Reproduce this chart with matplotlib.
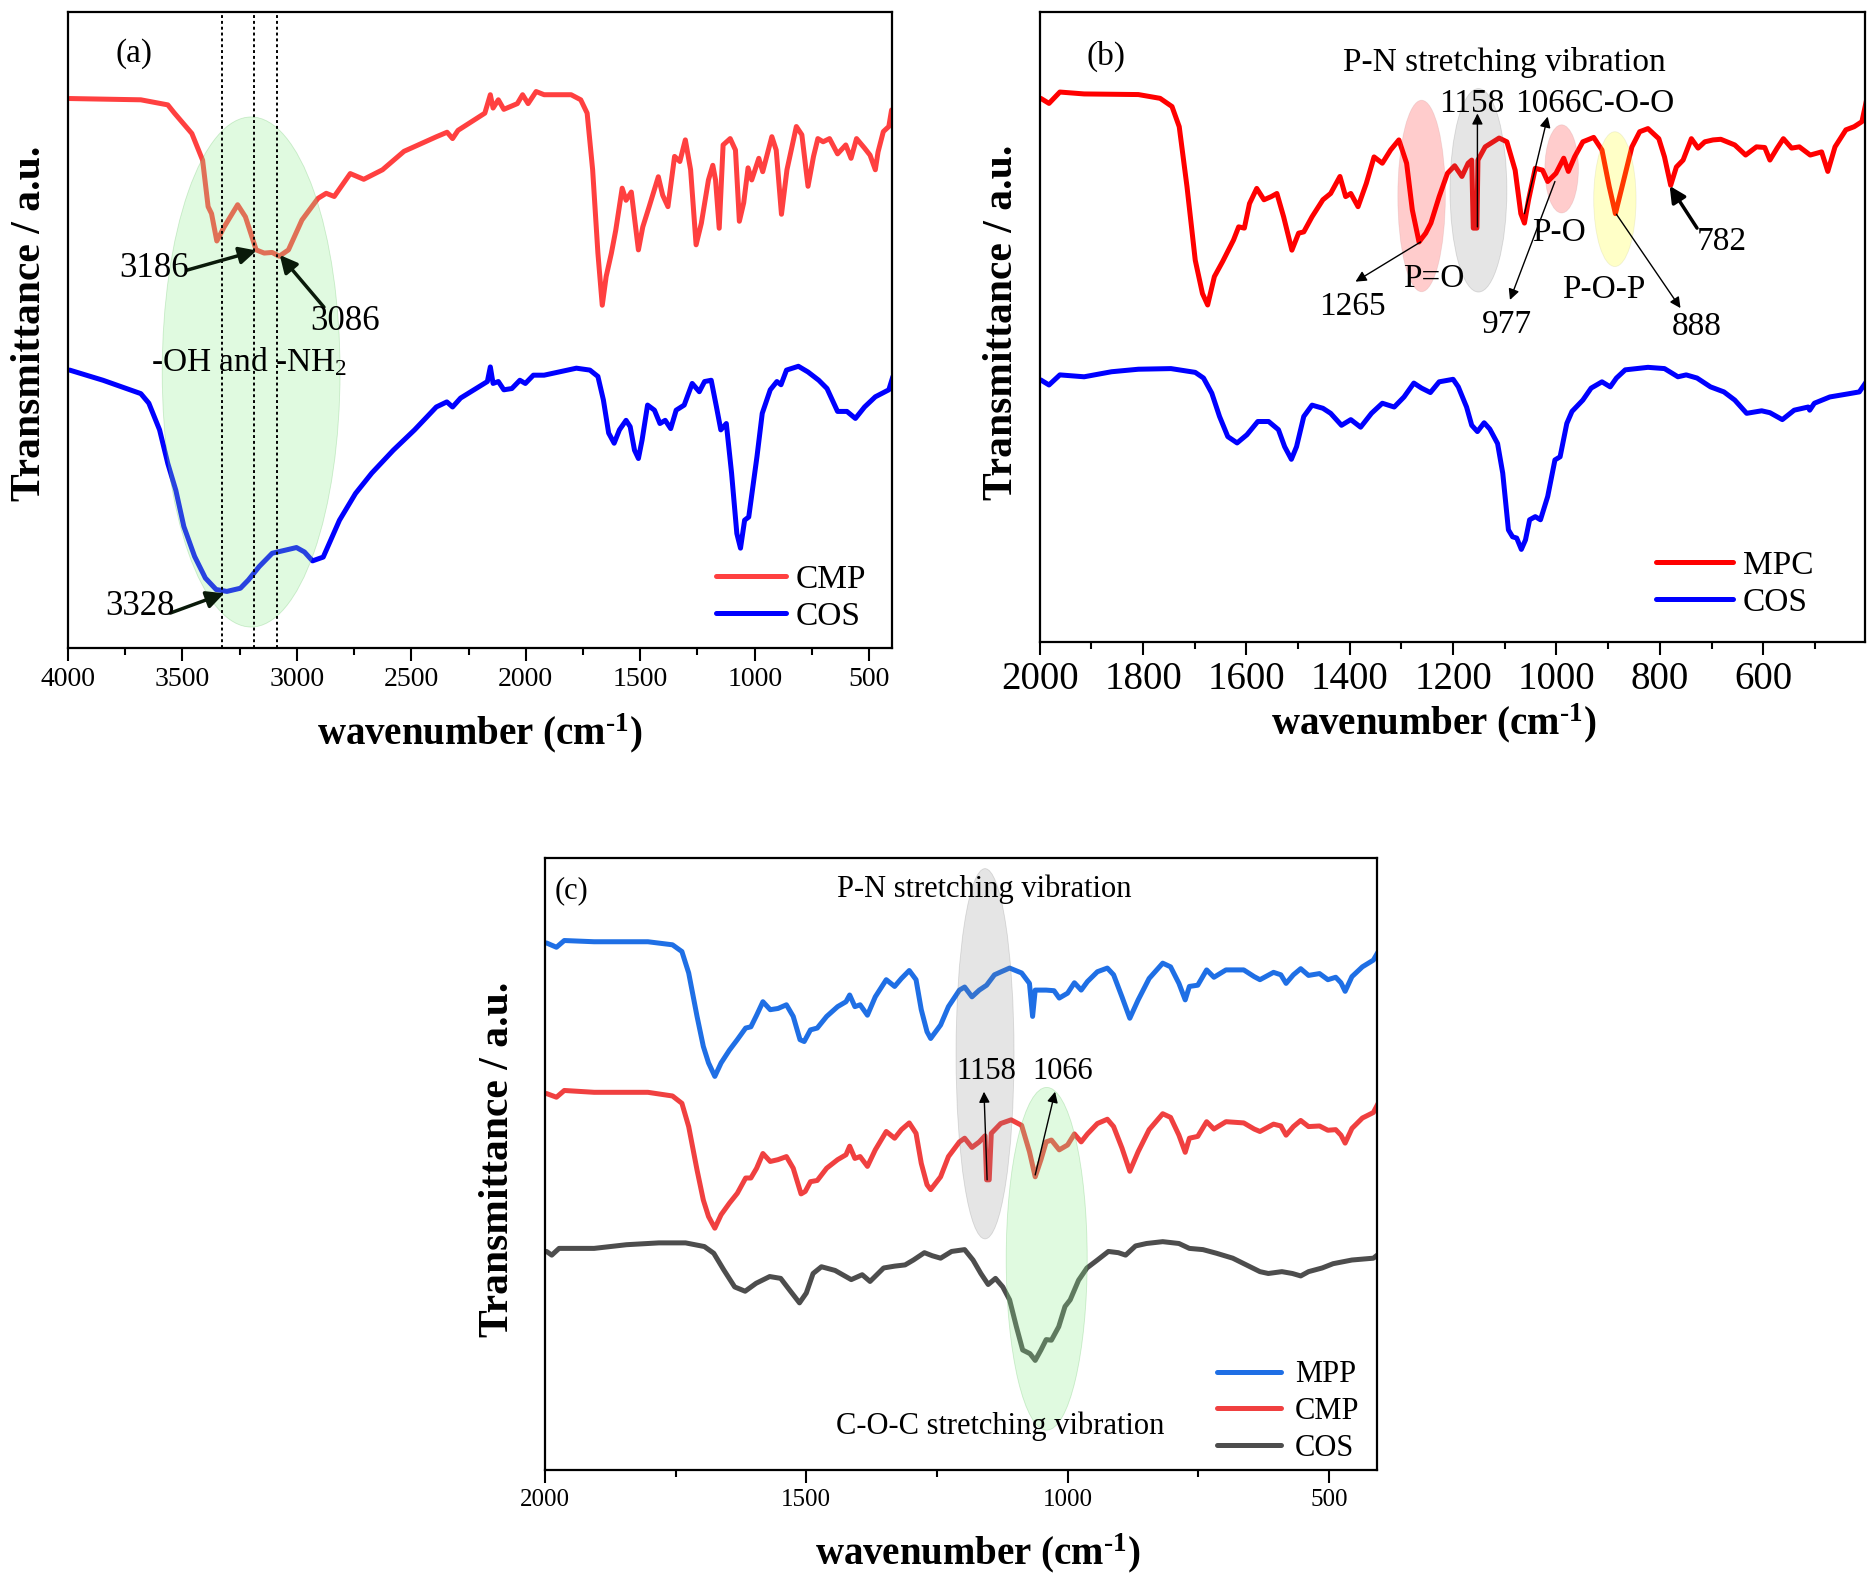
import matplotlib
matplotlib.use("Agg")
import matplotlib.pyplot as plt
from matplotlib.patches import Ellipse
from matplotlib.ticker import MultipleLocator

plt.rcParams['font.family'] = ['Liberation Serif', 'DejaVu Serif']
plt.rcParams['mathtext.fontset'] = 'custom'
plt.rcParams['mathtext.rm'] = 'Liberation Serif:bold'
plt.rcParams['mathtext.sf'] = 'Liberation Serif'
plt.rcParams['mathtext.bf'] = 'Liberation Serif:bold'
plt.rcParams['mathtext.it'] = 'Liberation Serif:italic'

# ---- panel (a): CMP / COS, 4000-400 cm-1 ----
a_cmp_wn = [3993, 3682, 3564, 3535, 3459, 3412, 3388, 3373, 3350, 3318,
            3259, 3225, 3178, 3143, 3108, 3077, 3037, 2978, 2908, 2872,
            2837, 2767, 2708, 2626, 2532, 2390, 2344, 2320, 2296, 2179,
            2155, 2143, 2120, 2096, 2037, 2014, 1990, 1955, 1920, 1802,
            1760, 1732, 1708, 1685, 1666, 1649, 1626, 1607, 1579, 1562,
            1539, 1508, 1489, 1461, 1421, 1402, 1379, 1350, 1327, 1303,
            1280, 1256, 1233, 1202, 1183, 1171, 1155, 1138, 1107, 1084,
            1067, 1048, 1029, 1013, 982, 965, 925, 906, 883, 859,
            818, 794, 767, 743, 724, 701, 673, 638, 602, 579,
            555, 520, 496, 473, 461, 438, 414, 402]
a_cmp_t = [86.4, 86.2, 85.4, 84.1, 80.9, 76.7, 69.4, 68.3, 64.0, 66.2,
           69.7, 67.8, 62.6, 62.1, 62.2, 61.6, 62.6, 67.3, 70.7, 71.5,
           71.0, 74.6, 73.7, 75.2, 78.1, 80.4, 81.1, 80.1, 81.4, 84.1,
           87.0, 84.9, 86.2, 84.7, 85.6, 87.0, 85.6, 87.5, 87.0, 87.0,
           86.2, 84.1, 75.2, 62.1, 53.9, 58.4, 62.1, 65.7, 72.3, 70.4,
           71.7, 62.6, 66.2, 69.4, 74.1, 71.2, 69.4, 77.3, 76.5, 79.9,
           75.2, 63.4, 66.8, 73.6, 75.9, 73.6, 66.0, 79.1, 80.1, 78.3,
           67.1, 70.0, 75.5, 73.6, 77.0, 74.9, 80.4, 78.3, 68.2, 75.2,
           82.0, 80.7, 72.6, 77.3, 80.1, 79.6, 80.1, 77.7, 79.1, 77.0,
           80.1, 78.6, 77.5, 75.2, 78.0, 81.2, 82.0, 84.6]

a_cos_wn = [3993, 3847, 3682, 3647, 3600, 3564, 3529, 3494, 3447, 3400,
            3353, 3306, 3247, 3212, 3165, 3108, 3049, 3002, 2967, 2932,
            2885, 2814, 2744, 2673, 2579, 2486, 2391, 2345, 2320, 2285,
            2168, 2155, 2143, 2120, 2096, 2061, 2026, 2002, 1967, 1920,
            1779, 1720, 1685, 1661, 1638, 1614, 1591, 1562, 1544, 1525,
            1508, 1492, 1468, 1438, 1414, 1391, 1367, 1343, 1308, 1273,
            1242, 1219, 1190, 1167, 1148, 1124, 1101, 1078, 1062, 1044,
            1026, 990, 967, 932, 903, 885, 861, 809, 767, 720,
            684, 638, 597, 560, 520, 473, 414, 396]
a_cos_t = [43.7, 42.1, 40.0, 38.5, 34.3, 29.0, 24.8, 19.1, 14.4, 11.0,
           9.2, 8.9, 9.4, 10.7, 12.8, 14.9, 15.4, 15.8, 15.1, 13.7,
           14.3, 20.1, 24.3, 27.5, 31.1, 34.3, 37.9, 38.7, 37.9, 39.3,
           41.9, 44.2, 41.6, 41.9, 40.6, 40.8, 42.1, 41.6, 42.9, 42.9,
           44.0, 43.7, 42.7, 39.0, 33.8, 32.2, 34.3, 35.8, 34.8, 31.1,
           29.8, 32.7, 38.2, 37.4, 35.3, 35.8, 34.5, 37.4, 38.2, 41.6,
           40.3, 41.9, 42.1, 37.9, 34.3, 35.3, 27.5, 18.0, 15.7, 20.1,
           20.6, 30.1, 36.9, 40.6, 41.9, 41.4, 43.7, 44.3, 43.4, 42.1,
           40.8, 37.2, 37.2, 36.1, 37.9, 39.5, 40.6, 42.7]

# ---- panel (b): MPC / COS, 2000-400 cm-1 ----
b_mpc_wn = [1998, 1982, 1961, 1914, 1809, 1767, 1744, 1730, 1715, 1699,
            1685, 1675, 1662, 1646, 1625, 1615, 1604, 1594, 1580, 1566,
            1552, 1541, 1528, 1512, 1499, 1489, 1473, 1452, 1437, 1419,
            1408, 1398, 1384, 1368, 1353, 1337, 1321, 1305, 1290, 1279,
            1266, 1253, 1243, 1227, 1211, 1197, 1183, 1171, 1164, 1161,
            1154, 1152, 1138, 1111, 1096, 1080, 1069, 1062, 1054, 1041,
            1027, 1017, 1001, 986, 977, 965, 949, 928, 912, 898,
            886, 873, 854, 839, 823, 802, 791, 779, 768, 755,
            739, 726, 713, 697, 682, 655, 634, 613, 597, 587,
            573, 561, 545, 530, 509, 487, 475, 461, 440, 424,
            409, 398]
b_mpc_t = [86.3, 85.5, 87.3, 87.0, 86.9, 86.3, 85.0, 81.8, 72.3, 60.6,
           55.3, 53.5, 58.0, 60.4, 63.8, 65.9, 65.7, 69.6, 72.0, 70.2,
           70.7, 71.2, 67.5, 62.2, 64.9, 65.1, 67.5, 70.2, 71.2, 73.9,
           70.7, 71.2, 69.1, 72.8, 77.0, 76.0, 78.1, 79.7, 76.0, 68.6,
           63.5, 64.9, 66.5, 70.7, 74.4, 75.6, 73.9, 76.0, 76.5, 65.7,
           65.7, 76.5, 78.6, 80.0, 79.4, 74.9, 68.0, 66.5, 70.2, 75.2,
           74.9, 73.1, 74.4, 76.8, 74.7, 77.0, 79.4, 80.1, 78.1, 72.3,
           68.0, 72.3, 78.6, 81.0, 81.5, 79.9, 77.0, 72.5, 75.4, 76.5,
           79.9, 78.4, 79.4, 79.7, 79.8, 78.9, 77.3, 78.6, 78.5, 76.5,
           78.4, 79.9, 78.4, 78.6, 77.3, 77.8, 74.7, 78.6, 81.3, 81.8,
           82.6, 86.8]

b_cos_wn = [1998, 1982, 1961, 1914, 1861, 1809, 1746, 1699, 1683, 1667,
            1652, 1636, 1618, 1599, 1578, 1557, 1538, 1526, 1513, 1503,
            1489, 1473, 1452, 1437, 1416, 1398, 1379, 1358, 1337, 1314,
            1295, 1276, 1261, 1244, 1227, 1200, 1190, 1174, 1164, 1153,
            1140, 1129, 1114, 1104, 1093, 1085, 1077, 1068, 1060, 1052,
            1041, 1031, 1017, 1003, 993, 980, 970, 949, 933, 912,
            896, 884, 867, 823, 791, 765, 749, 728, 702, 676,
            655, 632, 603, 587, 563, 540, 513, 510, 501, 471,
            435, 414, 398]
b_cos_t = [41.6, 40.8, 42.4, 42.1, 42.9, 43.3, 43.4, 42.8, 41.9, 39.5,
           35.8, 32.6, 31.6, 32.9, 35.0, 35.0, 33.7, 31.0, 29.0, 31.0,
           35.8, 37.6, 37.1, 36.3, 34.4, 35.3, 34.1, 36.3, 37.9, 37.3,
           38.9, 41.1, 40.3, 39.6, 41.3, 41.7, 40.5, 37.3, 34.4, 33.4,
           34.8, 33.8, 31.5, 26.8, 17.8, 16.7, 16.5, 14.7, 16.2, 19.4,
           19.9, 19.4, 23.1, 28.9, 29.4, 34.7, 36.6, 38.4, 40.3, 41.3,
           40.5, 41.9, 43.2, 43.6, 43.4, 42.1, 42.4, 41.9, 40.5, 39.7,
           38.4, 36.3, 36.7, 36.4, 35.3, 36.8, 37.3, 36.8, 37.9, 38.9,
           39.4, 39.7, 41.6]

# ---- panel (c): MPP / CMP / COS, 2000-400 cm-1 ----
c_mpp_wn = [1997, 1978, 1963, 1906, 1803, 1756, 1738, 1725, 1709, 1697,
            1687, 1675, 1663, 1647, 1632, 1616, 1606, 1595, 1583, 1569,
            1554, 1538, 1525, 1512, 1504, 1492, 1479, 1461, 1440, 1424,
            1417, 1407, 1397, 1383, 1368, 1347, 1331, 1318, 1303, 1290,
            1280, 1269, 1262, 1243, 1228, 1207, 1197, 1183, 1169, 1155,
            1140, 1127, 1111, 1088, 1073, 1067, 1062, 1041, 1026, 1016,
            1000, 987, 974, 962, 943, 924, 912, 896, 881, 865,
            844, 818, 803, 787, 775, 767, 751, 734, 720, 697,
            663, 643, 632, 606, 592, 582, 568, 554, 539, 518,
            502, 487, 477, 469, 456, 436, 415, 394]
c_mpp_t = [86.1, 85.4, 86.5, 86.3, 86.3, 85.8, 84.7, 81.2, 74.1, 69.2,
           66.5, 64.3, 66.5, 68.6, 70.3, 72.2, 72.4, 74.3, 76.5, 75.2,
           75.4, 76.0, 74.1, 70.3, 70.0, 71.9, 72.2, 74.1, 75.7, 76.5,
           77.6, 75.7, 76.0, 74.3, 77.3, 80.1, 79.0, 80.3, 81.6, 80.1,
           75.2, 71.6, 70.5, 72.7, 75.7, 78.4, 78.9, 77.3, 78.4, 79.2,
           80.9, 81.4, 82.0, 81.2, 79.5, 74.1, 78.4, 78.4, 78.3, 77.1,
           77.9, 79.6, 78.4, 79.8, 81.4, 82.0, 80.9, 77.3, 73.8, 76.8,
           80.3, 82.8, 82.2, 79.5, 76.8, 79.0, 79.2, 81.7, 80.5, 81.7,
           81.7, 80.6, 80.1, 81.3, 80.9, 79.5, 80.9, 81.9, 80.8, 81.1,
           80.1, 80.5, 79.6, 78.2, 80.6, 82.2, 83.3, 86.4]

c_cmp_wn = [1997, 1978, 1963, 1906, 1803, 1756, 1738, 1725, 1709, 1697,
            1687, 1675, 1663, 1647, 1632, 1616, 1606, 1595, 1583, 1569,
            1554, 1538, 1525, 1510, 1502, 1492, 1479, 1461, 1440, 1424,
            1417, 1407, 1397, 1383, 1368, 1347, 1331, 1318, 1303, 1290,
            1280, 1269, 1262, 1243, 1228, 1207, 1197, 1183, 1169, 1158,
            1155, 1150, 1146, 1128, 1108, 1088, 1073, 1062, 1051, 1041,
            1031, 1016, 1000, 987, 974, 962, 943, 924, 912, 896,
            881, 865, 844, 818, 803, 787, 775, 767, 751, 734,
            720, 697, 663, 643, 632, 606, 592, 582, 568, 554,
            539, 518, 502, 487, 477, 469, 456, 436, 415, 394]
c_cmp_t = [61.5, 60.9, 62.0, 61.7, 61.7, 61.1, 59.9, 56.1, 49.0, 44.1,
           41.4, 39.5, 41.7, 43.6, 45.2, 47.7, 47.7, 49.3, 51.7, 50.4,
           50.7, 51.2, 49.3, 45.1, 45.5, 47.1, 47.3, 49.3, 50.7, 51.5,
           52.9, 50.9, 51.2, 49.6, 52.3, 55.3, 54.2, 55.6, 56.7, 55.0,
           50.1, 46.6, 45.8, 47.9, 51.2, 53.6, 54.2, 52.7, 53.6, 54.6,
           47.4, 47.4, 55.0, 56.6, 57.2, 56.3, 52.0, 47.9, 50.7, 53.6,
           53.9, 52.3, 53.1, 54.9, 53.6, 54.9, 56.6, 57.3, 56.1, 52.6,
           48.8, 52.0, 55.6, 58.2, 57.6, 54.7, 51.9, 54.2, 54.5, 56.9,
           55.7, 56.9, 56.7, 55.7, 55.3, 56.5, 56.2, 54.7, 56.1, 57.1,
           56.1, 56.2, 55.5, 55.6, 54.7, 53.4, 55.8, 57.5, 58.4, 61.8]

c_cos_wn = [1997, 1987, 1973, 1906, 1844, 1782, 1731, 1695, 1677, 1658,
            1637, 1617, 1596, 1570, 1549, 1532, 1513, 1500, 1487, 1471,
            1445, 1414, 1393, 1378, 1352, 1331, 1311, 1295, 1274, 1259,
            1243, 1222, 1197, 1181, 1166, 1152, 1138, 1124, 1111, 1098,
            1086, 1072, 1062, 1051, 1041, 1031, 1017, 1005, 995, 979,
            963, 943, 922, 903, 889, 870, 849, 818, 787, 767,
            741, 715, 684, 658, 632, 616, 590, 570, 554, 539,
            513, 492, 456, 415, 394]
c_cos_t = [35.7, 35.1, 36.2, 36.2, 36.8, 37.1, 37.1, 36.5, 35.4, 32.7,
           29.9, 29.2, 30.5, 31.6, 31.3, 29.4, 27.3, 28.9, 32.1, 33.2,
           32.6, 31.1, 31.9, 30.8, 33.0, 33.3, 33.5, 34.3, 35.5, 35.0,
           34.6, 35.7, 36.0, 34.3, 32.1, 30.3, 31.3, 29.9, 27.8, 23.4,
           19.6, 19.0, 17.9, 19.6, 21.3, 21.2, 23.4, 26.7, 27.8, 31.0,
           33.0, 34.3, 35.7, 35.5, 35.1, 36.6, 37.0, 37.3, 37.0, 36.2,
           36.0, 35.4, 34.6, 33.5, 32.4, 32.1, 32.4, 32.1, 31.7, 32.4,
           33.0, 33.7, 34.3, 34.6, 36.0]

XLABEL = r'wavenumber (cm$^{\text{-1}}$)'
YLABEL = 'Transmittance / a.u.'


def style_axis(ax, xlim, major, minor, tick_fs, xlab_pos, ylab_pos):
    ax.set_xlim(*xlim)
    ax.set_ylim(0, 100)
    ax.xaxis.set_major_locator(MultipleLocator(major))
    ax.xaxis.set_minor_locator(MultipleLocator(minor))
    ax.tick_params(axis='x', which='major', direction='out', length=9, width=1.5,
                   labelsize=tick_fs, pad=5)
    ax.tick_params(axis='x', which='minor', direction='out', length=5, width=1.5)
    ax.tick_params(axis='y', which='both', left=False, labelleft=False)
    for s in ax.spines.values():
        s.set_linewidth(1.6)
    ax.text(xlab_pos[0], xlab_pos[1], XLABEL, transform=ax.transAxes,
            ha='center', va='center', fontsize=28, fontweight='bold')
    ax.text(ylab_pos[0], ylab_pos[1], YLABEL, transform=ax.transAxes,
            ha='center', va='center', rotation=90, fontsize=30, fontweight='bold')


def arrow(ax, tail, head, lw=1.0, color='k', ms=18):
    ax.annotate('', xy=head, xytext=tail,
                arrowprops=dict(arrowstyle='-|>', lw=lw, color=color,
                                mutation_scale=ms, shrinkA=0, shrinkB=0),
                zorder=6)


def curve(ax, wn, t, color, label):
    ax.plot(wn, t, color=color, lw=3.6, label=label, zorder=2,
            solid_joinstyle='round', solid_capstyle='round')


fig = plt.figure(figsize=(18.74, 15.84), dpi=100)
ax_a = fig.add_axes([0.0363, 0.5909, 0.4397, 0.4015])
ax_b = fig.add_axes([0.5548, 0.5947, 0.4404, 0.3977])
ax_c = fig.add_axes([0.2908, 0.0720, 0.4440, 0.3864])

# ---------------- (a) ----------------
curve(ax_a, a_cmp_wn, a_cmp_t, '#ff4040', 'CMP')
curve(ax_a, a_cos_wn, a_cos_t, '#0000ff', 'COS')
ax_a.add_patch(Ellipse((3200, 43.4), 777, 80.2, facecolor='#90ee90', alpha=0.28,
                       edgecolor='#60c060', lw=0.6, zorder=3))
for wn in (3328, 3186, 3086):
    ax_a.axvline(wn, color='k', ls=(0, (1.5, 1.5)), lw=1.4, zorder=4)
ax_a.text(3712, 93.4, '(a)', fontsize=24, ha='center', va='center')
dark = '#0a1a0a'
ax_a.text(3623, 59.7, '3186', fontsize=25, ha='center', va='center', zorder=7)
arrow(ax_a, (3482, 59.4), (3176, 62.5), lw=2.5, color=dark, ms=26)
ax_a.text(2788, 51.3, '3086', fontsize=25, ha='center', va='center', zorder=7)
arrow(ax_a, (2882, 53.6), (3075, 61.8), lw=2.5, color=dark, ms=26)
ax_a.text(3211, 45.0, r'-OH and -NH$_\mathsf{2}$', fontsize=24, ha='center', va='center', zorder=7)
ax_a.text(3687, 6.5, '3328', fontsize=25, ha='center', va='center', zorder=7)
arrow(ax_a, (3553, 5.5), (3318, 8.6), lw=2.5, color=dark, ms=26)
ax_a.legend(loc='lower left', bbox_to_anchor=(0.786, 0.025), frameon=False, fontsize=24,
            handlelength=2.1, handletextpad=0.3, labelspacing=0.2, borderpad=0,
            borderaxespad=0)
style_axis(ax_a, (4000, 400), 500, 250, 20, (0.5, -0.134), (-0.046, 0.511))

# ---------------- (b) ----------------
curve(ax_b, b_mpc_wn, b_mpc_t, '#ff0000', 'MPC')
curve(ax_b, b_cos_wn, b_cos_t, '#0000ff', 'COS')
ax_b.add_patch(Ellipse((1261, 70.8), 92, 30.4, facecolor='#ff0000', alpha=0.2,
                       edgecolor='#c08080', lw=0.6, zorder=3))
ax_b.add_patch(Ellipse((1151, 71.7), 110, 32.3, facecolor='#808080', alpha=0.2,
                       edgecolor='#606060', lw=0.6, zorder=3))
ax_b.add_patch(Ellipse((990, 75.1), 65, 14.0, facecolor='#ff0000', alpha=0.2,
                       edgecolor='#c08080', lw=0.6, zorder=3))
ax_b.add_patch(Ellipse((887, 70.3), 82, 21.4, facecolor='#ffff00', alpha=0.22,
                       edgecolor='#c0c080', lw=0.6, zorder=3))
ax_b.text(1871, 92.9, '(b)', fontsize=24, ha='center', va='center')
ax_b.text(1100, 92.0, 'P-N stretching vibration', fontsize=24, ha='center', va='center')
ax_b.text(1227, 85.5, '1158', fontsize=24, ha='left', va='center', zorder=7)
ax_b.text(1080, 85.5, '1066C-O-O', fontsize=24, ha='left', va='center', zorder=7)
arrow(ax_b, (1153, 65.9), (1153, 83.9), lw=1.0, ms=16)
arrow(ax_b, (1062, 68.0), (1017, 83.4), lw=1.0, ms=16)
ax_b.text(1238, 57.7, 'P=O', fontsize=24, ha='center', va='center', zorder=7)
ax_b.text(1394, 53.2, '1265', fontsize=24, ha='center', va='center', zorder=7)
arrow(ax_b, (1263, 63.5), (1389, 57.2), lw=1.0, ms=16)
ax_b.text(996, 64.9, 'P-O', fontsize=24, ha='center', va='center', zorder=7)
ax_b.text(1096, 50.3, '977', fontsize=24, ha='center', va='center', zorder=7)
arrow(ax_b, (1003, 73.1), (1090, 54.3), lw=1.0, ms=16)
ax_b.text(909, 55.9, 'P-O-P', fontsize=24, ha='center', va='center', zorder=7)
ax_b.text(728, 50.0, '888', fontsize=24, ha='center', va='center', zorder=7)
arrow(ax_b, (884, 67.9), (760, 53.0), lw=1.0, ms=16)
ax_b.text(681, 63.5, '782', fontsize=24, ha='center', va='center', zorder=7)
arrow(ax_b, (728, 65.7), (781, 72.4), lw=2.5, ms=24)
ax_b.legend(loc='lower left', bbox_to_anchor=(0.747, 0.038), frameon=False, fontsize=24,
            handlelength=2.3, handletextpad=0.3, labelspacing=0.2, borderpad=0,
            borderaxespad=0)
style_axis(ax_b, (2000, 403), 200, 100, 28, (0.478, -0.129), (-0.046, 0.508))

# ---------------- (c) ----------------
curve(ax_c, c_mpp_wn, c_mpp_t, '#1f6fe5', 'MPP')
curve(ax_c, c_cmp_wn, c_cmp_t, '#f04040', 'CMP')
curve(ax_c, c_cos_wn, c_cos_t, '#4d4d4d', 'COS')
ax_c.add_patch(Ellipse((1158, 68.0), 111, 60.5, facecolor='#808080', alpha=0.2,
                       edgecolor='#606060', lw=0.6, zorder=3))
ax_c.add_patch(Ellipse((1040, 34.5), 155, 56.0, facecolor='#90ee90', alpha=0.28,
                       edgecolor='#60c060', lw=0.6, zorder=3))
ax_c.text(1950, 94.6, '(c)', fontsize=22, ha='center', va='center')
ax_c.text(1160, 94.8, 'P-N stretching vibration', fontsize=22, ha='center', va='center')
ax_c.text(1155, 65.1, '1158', fontsize=22, ha='center', va='center', zorder=7)
ax_c.text(1010, 65.1, '1066', fontsize=22, ha='center', va='center', zorder=7)
arrow(ax_c, (1154, 47.4), (1160, 61.8), lw=1.0, ms=16)
arrow(ax_c, (1062, 48.2), (1024, 61.8), lw=1.0, ms=16)
ax_c.text(1129, 7.1, 'C-O-C stretching vibration', fontsize=22, ha='center', va='center', zorder=7)
ax_c.legend(loc='lower left', bbox_to_anchor=(0.808, 0.012), frameon=False, fontsize=22,
            handlelength=2.1, handletextpad=0.45, labelspacing=0.25, borderpad=0,
            borderaxespad=0)
style_axis(ax_c, (2000, 408), 500, 250, 18, (0.52, -0.136), (-0.057, 0.508))

fig.savefig('out.png', dpi=100)
